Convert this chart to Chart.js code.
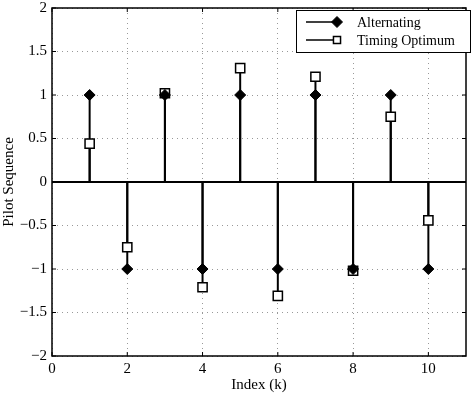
<!DOCTYPE html>
<html>
<head>
<meta charset="utf-8">
<script src="https://cdn.jsdelivr.net/npm/chart.js@4/dist/chart.umd.min.js"></script>
<style>
  html, body { margin: 0; padding: 0; background: #fff; }
  #wrap { width: 474px; height: 395px; }
</style>
</head>
<body>
<div id="wrap"><canvas id="myChart"></canvas></div>
<script>
// data
var indexK = [1, 2, 3, 4, 5, 6, 7, 8, 9, 10];
var alternating = [1, -1, 1, -1, 1, -1, 1, -1, 1, -1];
var timingOptimum = [0.44, -0.75, 1.02, -1.21, 1.31, -1.31, 1.21, -1.02, 0.75, -0.44];
var xTicks = [0, 2, 4, 6, 8, 10];
var yTicks = [-2, -1.5, -1, -0.5, 0, 0.5, 1, 1.5, 2];

var serif = '"Liberation Serif", "DejaVu Serif", serif';

function points(ys) {
    return indexK.map(function (k, i) { return { x: k, y: ys[i] }; });
}

function fmt(v) {
    return v < 0 ? '\u2212' + Math.abs(v) : String(v);
}

// stems, zero line, box, ticks and legend
var stemPlugin = {
    id: 'stems',
    beforeDatasetsDraw: function (chart) {
        var ctx = chart.ctx, xs = chart.scales.x, ys = chart.scales.y, a = chart.chartArea;
        var y0 = ys.getPixelForValue(0);
        ctx.save();
        ctx.strokeStyle = '#000';
        ctx.lineWidth = 2;
        chart.data.datasets.forEach(function (ds) {
            ds.data.forEach(function (p) {
                var px = xs.getPixelForValue(p.x);
                ctx.beginPath();
                ctx.moveTo(px, y0);
                ctx.lineTo(px, ys.getPixelForValue(p.y));
                ctx.stroke();
            });
        });
        ctx.beginPath();
        ctx.moveTo(a.left, y0);
        ctx.lineTo(a.right, y0);
        ctx.stroke();
        ctx.restore();
    },
    afterDraw: function (chart) {
        var ctx = chart.ctx, a = chart.chartArea, xs = chart.scales.x, ys = chart.scales.y;
        ctx.save();
        ctx.strokeStyle = '#000';
        ctx.lineWidth = 1.5;
        ctx.strokeRect(a.left, a.top, a.right - a.left, a.bottom - a.top);

        // inward tick marks on all four sides
        ctx.lineWidth = 1;
        var tl = 4;
        ctx.beginPath();
        xTicks.forEach(function (v) {
            var px = xs.getPixelForValue(v);
            ctx.moveTo(px, a.bottom); ctx.lineTo(px, a.bottom - tl);
            ctx.moveTo(px, a.top); ctx.lineTo(px, a.top + tl);
        });
        yTicks.forEach(function (v) {
            var py = ys.getPixelForValue(v);
            ctx.moveTo(a.left, py); ctx.lineTo(a.left + tl, py);
            ctx.moveTo(a.right, py); ctx.lineTo(a.right - tl, py);
        });
        ctx.stroke();

        // tick labels
        ctx.fillStyle = '#000';
        ctx.font = '15px ' + serif;
        ctx.textBaseline = 'middle';
        ctx.textAlign = 'center';
        xTicks.forEach(function (v) {
            ctx.fillText(fmt(v), xs.getPixelForValue(v), a.bottom + 13);
        });
        ctx.textAlign = 'right';
        yTicks.forEach(function (v) {
            ctx.fillText(fmt(v), a.left - 5, ys.getPixelForValue(v));
        });

        // legend box
        var bx = 296, by = 10, bw = 174, bh = 42;
        ctx.fillStyle = '#fff';
        ctx.fillRect(bx, by, bw, bh);
        ctx.lineWidth = 1;
        ctx.strokeRect(bx + 0.5, by + 0.5, bw, bh);
        ctx.font = '14px ' + serif;
        ctx.textAlign = 'left';
        chart.data.datasets.forEach(function (ds, i) {
            var ly = by + 12 + i * 18;
            ctx.strokeStyle = '#000';
            ctx.lineWidth = 1.5;
            ctx.beginPath();
            ctx.moveTo(bx + 10, ly);
            ctx.lineTo(bx + 41, ly);
            ctx.stroke();
            ctx.fillStyle = ds.backgroundColor;
            ctx.strokeStyle = ds.borderColor;
            ctx.lineWidth = ds.borderWidth;
            Chart.helpers.drawPoint(ctx, {
                pointStyle: ds.pointStyle,
                radius: ds.pointStyle === 'rect' ? 5 : ds.pointRadius,
                borderWidth: ds.borderWidth
            }, bx + 41, ly);
            ctx.fillStyle = '#000';
            ctx.fillText(ds.label, bx + 61, ly + 1);
        });
        ctx.restore();
    }
};

var ctx = document.getElementById('myChart').getContext('2d');

var myChart = new Chart(ctx, {
    type: 'scatter',
    data: {
        datasets: [{
            label: 'Alternating',
            data: points(alternating),
            pointStyle: 'rectRot',
            pointRadius: 5.5,
            backgroundColor: '#000',
            borderColor: '#000',
            borderWidth: 1
        }, {
            label: 'Timing Optimum',
            data: points(timingOptimum),
            pointStyle: 'rect',
            pointRadius: 6.5,
            backgroundColor: '#fff',
            borderColor: '#000',
            borderWidth: 1.5
        }]
    },
    options: {
        responsive: true,
        maintainAspectRatio: false,
        animation: false,
        layout: { padding: { top: 4, right: 2, left: 0, bottom: 0 } },
        plugins: {
            legend: { display: false },
            tooltip: { enabled: false }
        },
        scales: {
            x: {
                type: 'linear',
                min: 0,
                max: 11,
                afterBuildTicks: function (scale) {
                    scale.ticks = xTicks.map(function (v) { return { value: v }; });
                },
                afterFit: function (scale) { scale.height = 39; },
                grid: {
                    color: '#999',
                    lineWidth: 1,
                    drawTicks: false
                },
                border: { display: false, dash: [1, 4] },
                ticks: { display: false },
                title: {
                    display: true,
                    text: 'Index (k)',
                    color: '#000',
                    padding: { top: 0, bottom: 1 },
                    font: { family: serif, size: 15 }
                }
            },
            y: {
                min: -2,
                max: 2,
                afterBuildTicks: function (scale) {
                    scale.ticks = yTicks.map(function (v) { return { value: v }; });
                },
                afterFit: function (scale) { scale.width = 52; },
                grid: {
                    color: '#999',
                    lineWidth: 1,
                    drawTicks: false
                },
                border: { display: false, dash: [1, 4] },
                ticks: { display: false },
                title: {
                    display: true,
                    text: 'Pilot Sequence',
                    color: '#000',
                    padding: { top: 0, bottom: 0 },
                    font: { family: serif, size: 15 }
                }
            }
        }
    },
    plugins: [stemPlugin]
});
</script>
</body>
</html>
